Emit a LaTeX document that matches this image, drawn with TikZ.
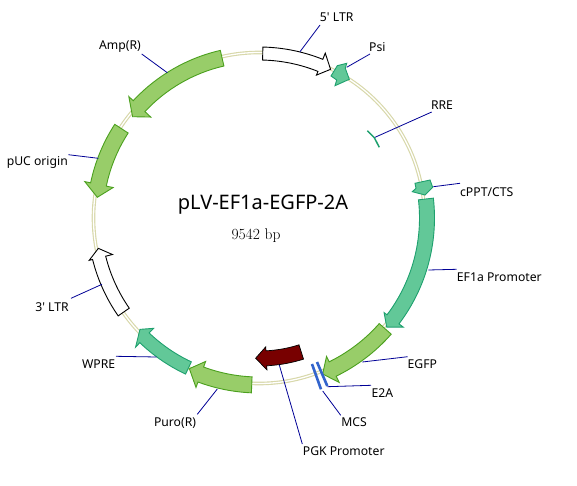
\documentclass[tikz,border=0pt]{standalone}
\usepackage{fontspec}
\newfontfamily\labfont{Noto Sans}
\definecolor{ringc}{RGB}{216,216,170}
\definecolor{gfill}{RGB}{152,205,105}
\definecolor{gline}{RGB}{75,160,30}
\definecolor{tfill}{RGB}{98,200,152}
\definecolor{tline}{RGB}{30,160,110}
\definecolor{rfill}{RGB}{120,0,0}
\definecolor{leadc}{RGB}{0,0,150}
\definecolor{bluec}{RGB}{50,100,205}
\tikzset{
 lbl/.style={font=\labfont\fontsize{12.2}{14}\selectfont,inner sep=0pt,text=black},
 leader/.style={draw=leadc,line width=0.8pt},
 greenarrow/.style={fill=gfill,draw=gline,line width=0.9pt,line join=miter},
 tealarrow/.style={fill=tfill,draw=tline,line width=0.9pt,line join=miter},
 whitearrow/.style={fill=white,draw=black,line width=0.9pt,line join=miter},
 redarrow/.style={fill=rfill,draw=black,line width=0.7pt,line join=miter},
 site/.style={line width=2.6pt,draw=bluec}
}
% style, tail angle, head base angle, tip angle, r in, r out, wing in, wing out, r tip
\newcommand\garc[9]{\path[#1] (#2:#6) arc[start angle=#2,end angle=#3,radius=#6pt] -- (#3:#8) -- (#4:#9) -- (#3:#7) -- (#3:#5) arc[start angle=#3,end angle=#2,radius=#5pt] -- cycle;}
\begin{document}
\begin{tikzpicture}[x=1pt,y=-1pt]
\useasboundingbox (0,0) rectangle (577,486);
\fill[white] (0,0) rectangle (577,486);
\coordinate (ctr) at (259,218);
% ring
\begin{scope}[shift={(259,218)},x=1pt,y=1pt]
\draw[ringc,line width=3.6pt] (0,0) circle[radius=165.5pt];
\draw[white,line width=1.3pt] (0,0) circle[radius=165.5pt];
% arrows
\garc{whitearrow}{88.7}{68.1}{64.3}{158}{171}{154}{177.7}{165}
\garc{greenarrow}{103}{137}{141.3}{156}{172}{148}{178}{162}
\garc{greenarrow}{147}{168.2}{172.7}{156}{172}{149}{178}{163}
\garc{whitearrow}{214.8}{194}{190.7}{158}{171.5}{151}{175}{163.5}
\garc{tealarrow}{244.8}{226.3}{223.1}{159}{172.5}{152.6}{178.7}{163}
\garc{greenarrow}{267.5}{249.6}{245.2}{159}{175}{153}{180.8}{166}
\garc{tealarrow}{6.5}{-37.1}{-40.5}{160.5}{175.5}{156.8}{181}{168}
\garc{greenarrow}{-41.3}{-64}{-67.8}{160}{176}{154}{183}{168.5}
\garc{redarrow}{-72.5}{-87}{-91.4}{133}{148}{129}{152}{140.3}
\end{scope}
% small features
\path[tealarrow] (346.7,63.3) -- (345.3,68.3) -- (349.3,79.3) -- (335,85.7) -- (336.7,80) -- (331,76) -- (337.3,65.7) -- cycle;
\path[tealarrow] (415,183.3) -- (430,180) -- (432.7,187.3) -- (425,195) -- (412.3,191.7) -- (416,188.3) -- cycle;
\draw[tline,line width=1.5pt] (367.3,130.7) -- (374.3,137.7) -- (379.3,147.3);
\coordinate (mcsa) at (312,364); \coordinate (mcsb) at (321,389.3);
\coordinate (e2aa) at (317,362); \coordinate (e2ab) at (327.3,386);
\draw[site] (mcsa) -- (mcsb);
\draw[site] (e2aa) -- (e2ab);
% title
\node[inner sep=0pt,font=\labfont\fontsize{20}{24}\selectfont] (title) at (263,205) {pLV-EF1a-EGFP-2A};
\node[inner sep=0pt,font=\fontsize{15.5}{18}\selectfont] (size) at (256,236) {\oldstylenums{9542} bp};
% labels
\node[lbl] (l1) at (336.7,17) {5' LTR};
\node[lbl] (l2) at (377.3,46.7) {Psi};
\node[lbl] (l3) at (442,105) {RRE};
\node[lbl] (l4) at (486.7,191.7) {cPPT/CTS};
\node[lbl] (l5) at (499.3,277.3) {EF1a Promoter};
\node[lbl] (l6) at (422.3,364.3) {EGFP};
\node[lbl] (l7) at (382.3,393.3) {E2A};
\node[lbl] (l8) at (354,422.3) {MCS};
\node[lbl] (l9) at (343.7,451.3) {PGK Promoter};
\node[lbl] (l10) at (175,422.7) {Puro(R)};
\node[lbl] (l11) at (98.7,364.3) {WPRE};
\node[lbl] (l12) at (52,307) {3' LTR};
\node[lbl] (l13) at (37.3,162.7) {pUC origin};
\node[lbl] (l14) at (120,46.7) {Amp(R)};
% leader ends
\coordinate (a1) at (320,25);      \coordinate (b1) at (300,51.7);
\coordinate (a2) at (370,54);      \coordinate (b2) at (346.7,67.3);
\coordinate (a3) at (431.7,112);   \coordinate (b3) at (375,137.3);
\coordinate (a4) at (460,183.3);   \coordinate (b4) at (433.3,186.7);
\coordinate (a5) at (456.7,269.3); \coordinate (b5) at (428.3,270);
\coordinate (a6) at (407.7,356.7); \coordinate (b6) at (362.3,362);
\coordinate (a7) at (371,385.3);   \coordinate (b7) at (327.3,386.7);
\coordinate (a8) at (340.7,415.3); \coordinate (b8) at (322.7,391);
\coordinate (a9) at (302.3,444);   \coordinate (b9) at (279.3,365);
\coordinate (a10) at (197.3,414.3);\coordinate (b10) at (217.3,389);
\coordinate (a11) at (116,356.3);  \coordinate (b11) at (156.7,357);
\coordinate (a12) at (71,298.3);   \coordinate (b12) at (102,284.3);
\coordinate (a13) at (68.3,154.7); \coordinate (b13) at (98.3,158.3);
\coordinate (a14) at (141.7,54);   \coordinate (b14) at (167.3,72.7);
\foreach \i in {1,...,14} {\draw[leader] (a\i) -- (b\i);}
\end{tikzpicture}
\end{document}
